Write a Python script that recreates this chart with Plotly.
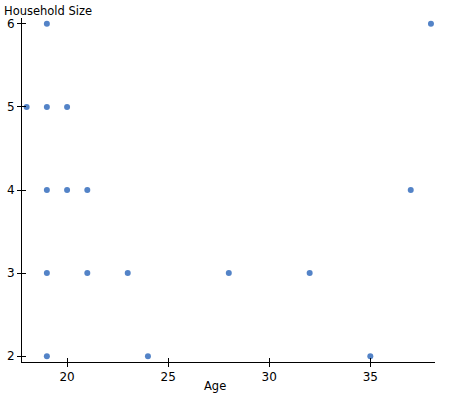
import plotly.graph_objects as go

age = [19, 18, 19, 20, 19, 20, 21, 37, 19, 21, 23, 28, 32, 19, 24, 35, 38]
household = [6, 5, 5, 5, 4, 4, 4, 4, 3, 3, 3, 3, 3, 2, 2, 2, 6]
x_ticks = [20, 25, 30, 35]
y_ticks = [2, 3, 4, 5, 6]

FONT = "DejaVu Sans"
xr = [17.77, 38.2]
yr = [1.93, 6.07]
L, R, T, B = 22, 15, 18, 35
PW = 450 - L - R
PH = 397 - T - B

fig = go.Figure()
fig.add_trace(go.Scatter(
    x=age, y=household, mode="markers", cliponaxis=False,
    marker=dict(size=6, color="#4a7cc4", opacity=0.95, line=dict(width=0)),
    showlegend=False,
))

axis_common = dict(showgrid=False, zeroline=False, showline=True, linecolor="black",
                   linewidth=1, ticks="outside", ticklen=4, tickcolor="black",
                   automargin=False,
                   tickfont=dict(family=FONT, size=12, color="black"))

fig.update_layout(
    width=450, height=397,
    margin=dict(l=L, r=R, t=T, b=B),
    plot_bgcolor="white", paper_bgcolor="white",
    font=dict(family=FONT, size=12, color="black"),
    xaxis=dict(range=xr, tickvals=x_ticks, **axis_common),
    yaxis=dict(range=yr, tickvals=y_ticks, **axis_common),
    xaxis2=dict(range=xr, tickvals=x_ticks, overlaying="x", anchor="y",
                showticklabels=False, ticks="inside", ticklen=4, tickcolor="black",
                showgrid=False, zeroline=False, showline=False, automargin=False),
    yaxis2=dict(range=yr, tickvals=y_ticks, overlaying="y", anchor="x",
                showticklabels=False, ticks="inside", ticklen=4, tickcolor="black",
                showgrid=False, zeroline=False, showline=False, automargin=False),
    annotations=[
        dict(text="Household Size", xref="paper", yref="paper",
             x=-(L - 2) / PW, y=1, xanchor="left", yanchor="bottom",
             yshift=-2, showarrow=False,
             font=dict(family=FONT, size=11.5, color="black")),
        dict(text="Age", xref="paper", yref="paper",
             x=(215 - L) / PW, y=-(386 - 397 + B) / PH, xanchor="center", yanchor="middle",
             showarrow=False,
             font=dict(family=FONT, size=11.5, color="black")),
    ],
)
fig.add_trace(go.Scatter(x=[None], y=[None], xaxis="x2", yaxis="y2",
                         showlegend=False, hoverinfo="skip"))
fig.write_html("out.html", config={"displayModeBar": False},
               post_script="document.body.style.margin='0';document.body.style.padding='0';")
